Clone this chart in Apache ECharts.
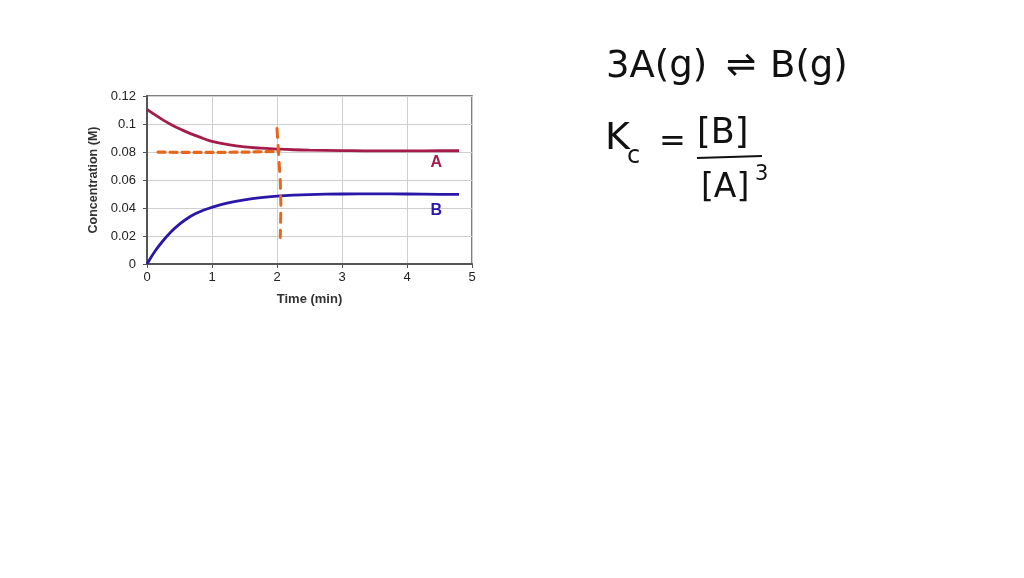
<!DOCTYPE html>
<html>
<head>
<meta charset="utf-8">
<script src="https://cdn.jsdelivr.net/npm/echarts@6/dist/echarts.min.js"></script>
<style>
html,body{margin:0;padding:0;background:#fff;}
#chart{width:1024px;height:578px;}
</style>
</head>
<body>
<div id="chart"></div>
<script>
// Time points (min)
const times = [0, 0.125, 0.25, 0.375, 0.5, 0.625, 0.75, 0.875, 1, 1.25, 1.5, 1.75, 2, 2.25, 2.5, 3, 3.5, 4, 4.5, 4.8];
// Concentration of A (M)
const concA = [0.1105, 0.1065, 0.1028, 0.0995, 0.0966, 0.0940, 0.0917, 0.0895, 0.0876, 0.0852, 0.0836, 0.0827, 0.0821, 0.0816, 0.0813, 0.0810, 0.0808, 0.0808, 0.0809, 0.0809];
// Concentration of B (M)
const concB = [0.0000, 0.0093, 0.0168, 0.0232, 0.0285, 0.0327, 0.0360, 0.0386, 0.0405, 0.0436, 0.0458, 0.0474, 0.0485, 0.0492, 0.0496, 0.0500, 0.0501, 0.0500, 0.0498, 0.0497];
// Hand-drawn orange guide lines (time, concentration)
const guideH = [[0.17, 0.0799], [0.6, 0.0797], [1.0, 0.0797], [1.5, 0.0799], [2.03, 0.0805]];
const guideV = [[2.00, 0.0968], [2.02, 0.0820], [2.05, 0.0600], [2.06, 0.0400], [2.05, 0.0190]];
// Axis ticks
const xTicks = {min: 0, max: 5, interval: 1};
const yTicks = {min: 0, max: 0.12, interval: 0.02};
// Curve labels
const curveLabels = [{name: 'A', t: 4.45, c: 0.0722, color: '#a51c4b'}, {name: 'B', t: 4.45, c: 0.0382, color: '#2a17b0'}];

const chart = echarts.init(document.getElementById('chart'));
const hwFont = '"DejaVu Sans", sans-serif';
const axisFont = 'Liberation Sans';
const option = {
  backgroundColor: '#ffffff',
  animation: false,
  grid: {left: 147, right: 552, top: 96, bottom: 314, show: true, borderColor: '#555', borderWidth: 1.5, backgroundColor: '#fff'},
  xAxis: {
    type: 'value', min: xTicks.min, max: xTicks.max, interval: xTicks.interval,
    name: 'Time (min)', nameLocation: 'middle', nameGap: 29,
    nameTextStyle: {fontFamily: axisFont, fontWeight: 'bold', fontSize: 13, color: '#333'},
    axisLine: {show: true, lineStyle: {color: '#555', width: 2}},
    axisTick: {show: true, length: 4, lineStyle: {color: '#555'}},
    axisLabel: {fontFamily: axisFont, fontSize: 13, color: '#222', margin: 7},
    splitLine: {show: true, lineStyle: {color: '#cfcfcf', width: 1}}
  },
  yAxis: {
    type: 'value', min: yTicks.min, max: yTicks.max, interval: yTicks.interval,
    name: 'Concentration (M)', nameLocation: 'middle', nameGap: 47, nameRotate: 90,
    nameTextStyle: {fontFamily: axisFont, fontWeight: 'bold', fontSize: 12.5, color: '#333'},
    axisLine: {show: true, lineStyle: {color: '#555', width: 2}},
    axisTick: {show: true, length: 4, lineStyle: {color: '#555'}},
    axisLabel: {fontFamily: axisFont, fontSize: 13, color: '#222', margin: 11,
      formatter: v => String(+v.toFixed(2))},
    splitLine: {show: true, lineStyle: {color: '#cfcfcf', width: 1}}
  },
  series: [
    {type: 'line', name: 'A', data: times.map((t, i) => [t, concA[i]]), smooth: 0.4, showSymbol: false,
      lineStyle: {color: '#a51c4b', width: 2.8}, z: 3},
    {type: 'line', name: 'B', data: times.map((t, i) => [t, concB[i]]), smooth: 0.4, showSymbol: false,
      lineStyle: {color: '#2a17a8', width: 2.8}, z: 3},
    {type: 'line', data: guideH, smooth: false, showSymbol: false,
      lineStyle: {color: '#e5671e', width: 3.2, type: [7, 5], cap: 'round'}, z: 4},
    {type: 'line', data: guideV, smooth: false, showSymbol: false,
      lineStyle: {color: '#e5671e', width: 3, type: [9, 8], cap: 'round'}, z: 4},
    {type: 'scatter', data: curveLabels.map(l => ({value: [l.t, l.c], name: l.name,
        label: {show: true, position: 'inside', formatter: l.name, color: l.color, opacity: 1, textBorderWidth: 0,
          fontFamily: axisFont, fontWeight: 'bold', fontSize: 16}})),
      symbolSize: 0, itemStyle: {color: '#fff'}, silent: true, z: 5}
  ],
  graphic: [
    {type: 'text', left: 606, top: 49, style: {text: '3A(g)', font: '37px ' + hwFont, fill: '#111'}},
    {type: 'text', left: 726, top: 49, style: {text: '\u21CC', font: '36px ' + hwFont, fill: '#111'}},
    {type: 'text', left: 770, top: 49, style: {text: 'B(g)', font: '37px ' + hwFont, fill: '#111'}},
    {type: 'text', left: 605, top: 120, style: {text: 'K', font: '38px ' + hwFont, fill: '#111'}},
    {type: 'text', left: 627, top: 145, style: {text: 'c', font: '24px ' + hwFont, fill: '#111'}},
    {type: 'text', left: 659, top: 127, style: {text: '=', font: '32px ' + hwFont, fill: '#111'}},
    {type: 'text', left: 697, top: 116, style: {text: '[B]', font: '35px ' + hwFont, fill: '#111'}},
    {type: 'line', shape: {x1: 697, y1: 158, x2: 762, y2: 156}, style: {stroke: '#111', lineWidth: 2.2}},
    {type: 'text', left: 701, top: 172, style: {text: '[A]', font: '33px ' + hwFont, fill: '#111'}},
    {type: 'text', left: 755, top: 164, style: {text: '3', font: '21px ' + hwFont, fill: '#111'}}
  ]
};
chart.setOption(option);
</script>
</body>
</html>
